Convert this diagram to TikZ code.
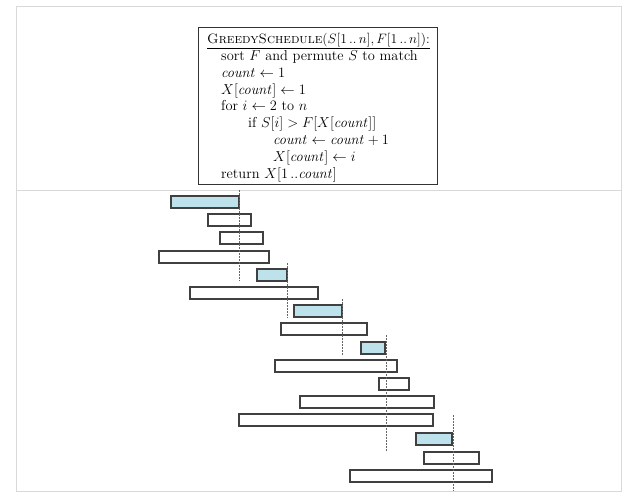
\documentclass[tikz,border=0pt]{standalone}
\usepackage{graphicx}
\begin{document}
\begin{tikzpicture}[x=1pt,y=-1pt,
  panel/.style={draw=black!15,line width=0.8pt},
  iv/.style={draw=black!75,line width=1.1pt,fill=white},
  sel/.style={iv,fill={rgb,255:red,190;green,226;blue,236}},
  guide/.style={draw=black!60,dashed,dash pattern=on 1.5pt off 1.5pt,line width=0.6pt},
  ln/.style={anchor=base west,inner sep=0pt,font=\Large}]
\useasboundingbox (0,0) rectangle (632,501);
\draw[panel] (16,6) rectangle (621,190);
\draw[panel] (16,190) rectangle (621,491);
\draw[black!80,line width=0.9pt] (198,27) rectangle (437,184);
\def\cnt{\mathit{count}}
\node[ln] (l1) at (207,43) {\scalebox{0.945}{\underline{\textsc{GreedySchedule}($S[1\,..\,n], F[1\,..\,n]$):}}};
\node[ln] (l2) at (221,60) {sort $F$ and permute $S$ to match};
\node[ln] (l3) at (221,77) {$\cnt \leftarrow 1$};
\node[ln] (l4) at (221,94) {$X[\cnt] \leftarrow 1$};
\node[ln] (l5) at (221,110) {for $i \leftarrow 2$ to $n$};
\node[ln] (l6) at (248,127) {if $S[i] > F[X[\cnt]]$};
\node[ln] (l7) at (273,144) {$\cnt \leftarrow \cnt + 1$};
\node[ln] (l8) at (273,161) {$X[\cnt] \leftarrow i$};
\node[ln] (l9) at (221,178) {return $X[1\,..\cnt]$};
% intervals
\draw[sel] (171,196) rectangle (239,208);
\draw[iv]  (208,214) rectangle (251,226);
\draw[iv]  (220,232) rectangle (263,244);
\draw[iv]  (159,251) rectangle (269,263);
\draw[sel] (257,269) rectangle (287,281);
\draw[iv]  (190,287) rectangle (318,299);
\draw[sel] (294,305) rectangle (342,317);
\draw[iv]  (281,323) rectangle (367,335);
\draw[sel] (361,342) rectangle (385,354);
\draw[iv]  (275,360) rectangle (397,372);
\draw[iv]  (379,378) rectangle (409,390);
\draw[iv]  (300,396) rectangle (434,408);
\draw[iv]  (239,414) rectangle (433,426);
\draw[sel] (416,433) rectangle (452,445);
\draw[iv]  (424,452) rectangle (479,464);
\draw[iv]  (350,470) rectangle (492,482);
% guides
\draw[guide] (239,190) -- (239,281);
\draw[guide] (287,263) -- (287,318);
\draw[guide] (342,299) -- (342,355);
\draw[guide] (386,335) -- (386,452);
\draw[guide] (453,415) -- (453,491);
\end{tikzpicture}
\end{document}
